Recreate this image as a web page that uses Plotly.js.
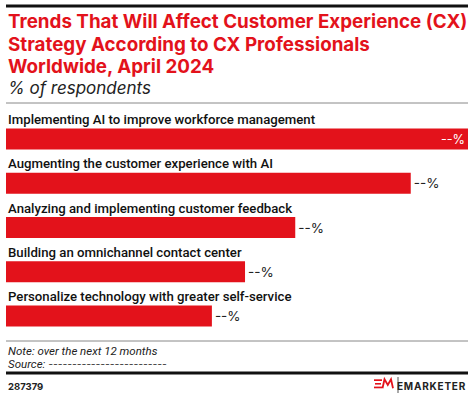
<!DOCTYPE html>
<html>
<head>
<meta charset="utf-8">
<script src="https://cdn.plot.ly/plotly-3.0.1.min.js"></script>
<style>html,body{margin:0;padding:0;background:#fff;}#chart{width:474px;height:399px;}</style>
</head>
<body>
<div id="chart"></div>
<script>
// ---- data ----
const categories = [
  "Implementing AI to improve workforce management",
  "Augmenting the customer experience with AI",
  "Analyzing and implementing customer feedback",
  "Building an omnichannel contact center",
  "Personalize technology with greater self-service"
];
const values = [46.0, 40.3, 28.8, 23.8, 20.5];
const valueLabels = ["--%", "--%", "--%", "--%", "--%"];
const titleLines = [
  "Trends That Will Affect Customer Experience (CX)",
  "Strategy According to CX Professionals",
  "Worldwide, April 2024"
];
const subtitle = "% of respondents";
const noteText = "Note: over the next 12 months";
const sourceLabel = "Source: ";
const sourceText = "-------------------------";
const chartId = "287379";
const brand = "EMARKETER";

// ---- layout helpers ----
const W = 474, H = 399;
const M = {l: 6, r: 6, t: 117, b: 61};
const PW = W - M.l - M.r, PH = H - M.t - M.b;
const px = X => (X - M.l) / PW;
const py = Y => (H - M.b - Y) / PH;
const RED = "#e3121b";
const FONT = "Inter, 'Noto Sans', sans-serif";
const FONT2 = "Roboto, 'Noto Sans', sans-serif";

const annotations = [];
titleLines.forEach((t, i) => {
  annotations.push({
    text: "<b>" + t + "</b>", xref: "paper", yref: "paper",
    x: px(6), y: py(21 + i * 23), xanchor: "left", yanchor: "middle",
    showarrow: false, font: {family: FONT, size: 18.8, color: RED}
  });
});
annotations.push({
  text: "<i>" + subtitle + "</i>", xref: "paper", yref: "paper",
  x: px(6), y: py(88), xanchor: "left", yanchor: "middle",
  showarrow: false, font: {family: FONT, size: 17, color: "#222"}
});
categories.forEach((c, i) => {
  annotations.push({
    text: c, xref: "x", yref: "y", x: 0, y: c, yshift: 19.5,
    xanchor: "left", yanchor: "middle", showarrow: false,
    font: {family: FONT2, size: 13.2, color: "#111", weight: 500}
  });
});
annotations.push({
  text: "<i>" + noteText + "</i>", xref: "paper", yref: "paper",
  x: px(6), y: py(351), xanchor: "left", yanchor: "middle",
  showarrow: false, font: {family: FONT2, size: 11.5, color: "#222"}
});
annotations.push({
  text: "<i>" + sourceLabel + "<span style=\"font-family:Inter;font-size:10.3px\">" + sourceText + "</span></i>",
  xref: "paper", yref: "paper",
  x: px(6), y: py(364), xanchor: "left", yanchor: "middle",
  showarrow: false, font: {family: FONT2, size: 11.5, color: "#222"}
});
annotations.push({
  text: "<b>" + chartId + "</b>", xref: "paper", yref: "paper",
  x: px(6), y: py(386), xanchor: "left", yanchor: "middle",
  showarrow: false, font: {family: FONT, size: 9.5, color: "#222"}
});
annotations.push({
  text: "<b>" + brand.split("").join("\u200A") + "</b>", xref: "paper", yref: "paper",
  x: px(468), y: py(385.5), xanchor: "right", yanchor: "middle",
  showarrow: false, font: {family: FONT, size: 10, color: "#222"}
});

const shapes = [
  {type: "rect", xref: "paper", yref: "paper", x0: px(6), x1: px(468), y0: py(4.5), y1: py(7.5), fillcolor: "#111", line: {width: 0}},
  {type: "line", xref: "paper", yref: "paper", x0: px(6), x1: px(468), y0: py(103), y1: py(103), line: {color: "#888", width: 1}},
  {type: "line", xref: "paper", yref: "paper", x0: px(6), x1: px(468), y0: py(341), y1: py(341), line: {color: "#888", width: 1}},
  {type: "rect", xref: "paper", yref: "paper", x0: px(6), x1: px(468), y0: py(371.5), y1: py(374.5), fillcolor: "#111", line: {width: 0}},
  // logo E (three bars)
  {type: "rect", xref: "paper", yref: "paper", x0: px(374), x1: px(382), y0: py(379.3), y1: py(381), fillcolor: RED, line: {width: 0}},
  {type: "rect", xref: "paper", yref: "paper", x0: px(375), x1: px(381), y0: py(383), y1: py(384.6), fillcolor: RED, line: {width: 0}},
  {type: "rect", xref: "paper", yref: "paper", x0: px(374), x1: px(382), y0: py(386.6), y1: py(388.3), fillcolor: RED, line: {width: 0}},
  // logo M
  {type: "path", xref: "paper", yref: "paper",
   path: "M " + px(382.5) + " " + py(388.3) + " L " + px(384.5) + " " + py(379.3) + " L " + px(387.8) + " " + py(385) +
         " L " + px(391) + " " + py(379.3) + " L " + px(393) + " " + py(388.3),
   line: {color: RED, width: 1.8}},
  // divider
  {type: "line", xref: "paper", yref: "paper", x0: px(398), x1: px(398), y0: py(377), y1: py(393), line: {color: "#555", width: 1}}
];

const trace = {
  type: "bar", orientation: "h",
  y: categories, x: values,
  text: valueLabels,
  textposition: values.map((v, i) => i === 0 ? "inside" : "outside"),
  insidetextanchor: "end",
  insidetextfont: {family: FONT, size: 13.5, color: "#fff"},
  outsidetextfont: {family: FONT, size: 13.5, color: "#222"},
  marker: {color: RED, line: {width: 0}},
  width: 0.475,
  cliponaxis: false,
  hoverinfo: "skip"
};

const layout = {
  width: W, height: H,
  margin: M,
  paper_bgcolor: "#fff", plot_bgcolor: "#fff",
  showlegend: false,
  xaxis: {range: [0, Math.max(...values)], visible: false, fixedrange: true},
  yaxis: {range: [categories.length - 0.5, -0.5], visible: false, fixedrange: true},
  annotations: annotations,
  shapes: shapes,
  font: {family: FONT}
};

Plotly.newPlot("chart", [trace], layout, {displayModeBar: false, staticPlot: true});
</script>
</body>
</html>
